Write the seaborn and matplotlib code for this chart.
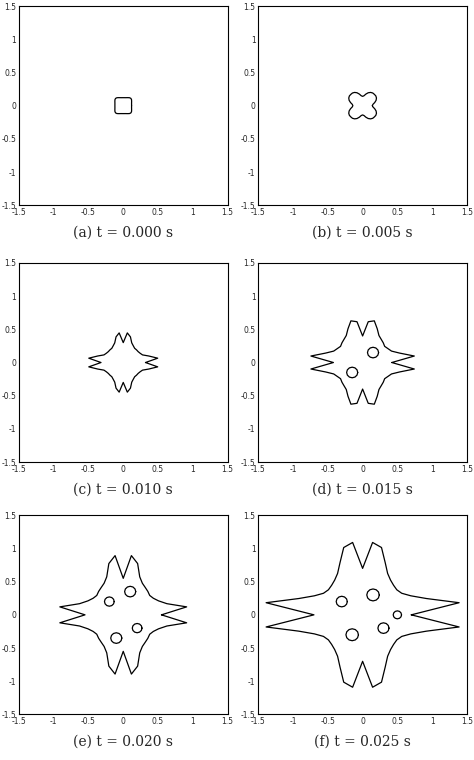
import numpy as np
import matplotlib
matplotlib.use("Agg")
import matplotlib.pyplot as plt
import seaborn as sns
import pandas as pd

sns.set_style("white")
plt.rcParams['font.family'] = ['DejaVu Sans']

# quadrant angles (deg) at which the interface radius was read
angles_deg = [0, 7.5, 15, 22.5, 30, 37.5, 45, 52.5, 60, 67.5, 75, 82.5, 90]

# interface radius per snapshot (first quadrant, mirrored for the rest)
r_a = [0.12, 0.121, 0.124, 0.130, 0.139, 0.150, 0.155, 0.150, 0.139, 0.130, 0.124, 0.121, 0.12]
r_b = [0.14, 0.15, 0.18, 0.21, 0.23, 0.24, 0.24, 0.24, 0.23, 0.21, 0.18, 0.15, 0.14]
r_c = [0.32, 0.50, 0.38, 0.30, 0.28, 0.27, 0.27, 0.27, 0.29, 0.32, 0.40, 0.45, 0.30]
r_d = [0.42, 0.75, 0.55, 0.45, 0.42, 0.40, 0.42, 0.44, 0.47, 0.55, 0.65, 0.62, 0.40]
r_e = [0.55, 0.92, 0.65, 0.55, 0.50, 0.48, 0.50, 0.52, 0.55, 0.62, 0.80, 0.90, 0.55]
r_f = [0.70, 1.40, 0.95, 0.75, 0.65, 0.62, 0.63, 0.66, 0.72, 0.85, 1.05, 1.10, 0.70]

radii = [r_a, r_b, r_c, r_d, r_e, r_f]
captions = ["(a) t = 0.000 s", "(b) t = 0.005 s", "(c) t = 0.010 s",
            "(d) t = 0.015 s", "(e) t = 0.020 s", "(f) t = 0.025 s"]

# small enclosed bubbles (x, y, radius) per snapshot
holes = [[], [], [],
         [(0.15, 0.15, 0.08), (-0.15, -0.15, 0.08)],
         [(0.1, 0.35, 0.08), (-0.1, -0.35, 0.08), (0.2, -0.2, 0.07), (-0.2, 0.2, 0.07)],
         [(0.15, 0.3, 0.09), (-0.3, 0.2, 0.08), (0.3, -0.2, 0.08), (-0.15, -0.3, 0.09), (0.5, 0.0, 0.06)]]

ticks = [-1.5, -1, -0.5, 0, 0.5, 1, 1.5]
tick_labels = ["-1.5", "-1", "-0.5", "0", "0.5", "1", "1.5"]


def full_contour(r):
    a = np.array(angles_deg)
    r = np.array(r)
    ang = np.concatenate([a, 180 - a[::-1][1:], 180 + a[1:], 360 - a[::-1][1:]])
    rr = np.concatenate([r, r[::-1][1:], r[1:], r[::-1][1:]])
    th = np.radians(ang)
    return pd.DataFrame({"x": rr * np.cos(th), "y": rr * np.sin(th)})


fig = plt.figure(figsize=(4.74, 7.6), dpi=100)
lefts = [0.04, 0.545]
bottoms = [0.730, 0.392, 0.06]
for k in range(6):
    ax = fig.add_axes([lefts[k % 2], bottoms[k // 2], 0.44, 0.262])
    df = full_contour(radii[k])
    sns.lineplot(data=df, x="x", y="y", sort=False, estimator=None, color="black", lw=0.9, ax=ax)
    for (hx, hy, hr) in holes[k]:
        t = np.radians(np.arange(0, 361, 30))
        hd = pd.DataFrame({"x": hx + hr * np.cos(t), "y": hy + hr * np.sin(t)})
        sns.lineplot(data=hd, x="x", y="y", sort=False, estimator=None, color="black", lw=0.9, ax=ax)
    ax.set_xlim(-1.5, 1.5)
    ax.set_ylim(-1.5, 1.5)
    ax.set_xticks(ticks)
    ax.set_yticks(ticks)
    ax.set_xticklabels(tick_labels)
    ax.set_yticklabels(tick_labels)
    ax.tick_params(labelsize=5.5, length=2, direction="in", pad=2)
    ax.set_ylabel("")
    ax.set_xlabel(captions[k], family="DejaVu Serif", fontsize=10, labelpad=6)
    for s in ax.spines.values():
        s.set_linewidth(0.8)
        s.set_color("black")

fig.savefig("out.png", dpi=100)
